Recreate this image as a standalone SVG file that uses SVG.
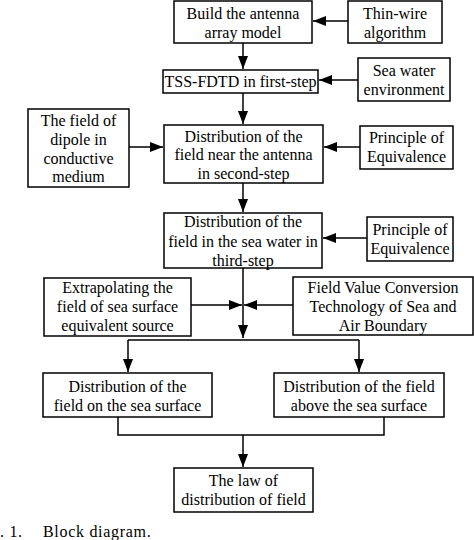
<svg xmlns="http://www.w3.org/2000/svg" width="474" height="540" viewBox="0 0 474 540">
<style>
rect{fill:#fff;stroke:#000;stroke-width:1.5}
text{font-family:"Liberation Serif","DejaVu Serif",serif;font-size:16px;fill:#000;text-anchor:middle}
.c line,.c polyline{stroke:#000;stroke-width:1.5;fill:none}
.cap{text-anchor:start;letter-spacing:0.7px}
</style>
<defs>
<marker id="a" markerUnits="userSpaceOnUse" markerWidth="14" markerHeight="10" refX="13" refY="5" orient="auto">
<path d="M0,0 L13,5 L0,10 z" fill="#000"/>
</marker>
</defs>
<rect width="474" height="540" style="fill:#fff;stroke:none"/>
<g class="c">
<line x1="348" y1="21" x2="313" y2="21" marker-end="url(#a)"/>
<line x1="243" y1="43" x2="243" y2="69" marker-end="url(#a)"/>
<line x1="358" y1="80" x2="319" y2="80" marker-end="url(#a)"/>
<line x1="243" y1="93" x2="243" y2="124" marker-end="url(#a)"/>
<line x1="129" y1="147" x2="163" y2="147" marker-end="url(#a)"/>
<line x1="360" y1="147" x2="324" y2="147" marker-end="url(#a)"/>
<line x1="243" y1="183" x2="243" y2="212" marker-end="url(#a)"/>
<line x1="367" y1="238" x2="323" y2="238" marker-end="url(#a)"/>
<line x1="243" y1="268" x2="243" y2="338" marker-end="url(#a)"/>
<line x1="191" y1="305" x2="242" y2="305" marker-end="url(#a)"/>
<line x1="293" y1="305" x2="244" y2="305" marker-end="url(#a)"/>
<line x1="128" y1="340" x2="359" y2="340"/>
<line x1="128" y1="340" x2="128" y2="372" marker-end="url(#a)"/>
<line x1="359" y1="340" x2="359" y2="372" marker-end="url(#a)"/>
<polyline points="118,417 118,435 384,435 384,417"/>
<line x1="243" y1="435" x2="243" y2="467" marker-end="url(#a)"/>
</g>
<g id="build"><rect x="174" y="1" width="138" height="42"/><text x="243" y="19">Build the antenna</text><text x="243" y="38">array model</text></g>
<g id="thinwire"><rect x="348" y="1" width="94" height="42"/><text x="395" y="19">Thin-wire</text><text x="395" y="38">algorithm</text></g>
<g id="tss"><rect x="163" y="70" width="155" height="23"/><text x="240.5" y="86.5">TSS-FDTD in first-step</text></g>
<g id="seawater"><rect x="358" y="58" width="92" height="43"/><text x="404" y="76">Sea water</text><text x="404" y="94.5">environment</text></g>
<g id="dipole"><rect x="28" y="109" width="101" height="78"/><text x="78.5" y="125.5">The field of</text><text x="78.5" y="145">dipole in</text><text x="78.5" y="164">conductive</text><text x="78.5" y="182">medium</text></g>
<g id="dist2"><rect x="164" y="125" width="159" height="58"/><text x="243.5" y="141.5">Distribution of the</text><text x="243.5" y="160">field near the antenna</text><text x="243.5" y="179">in second-step</text></g>
<g id="principle1"><rect x="360" y="126" width="93" height="43"/><text x="406.5" y="143">Principle of</text><text x="406.5" y="162">Equivalence</text></g>
<g id="dist3"><rect x="164" y="213" width="158" height="55"/><text x="243" y="227">Distribution of the</text><text x="243" y="246.5">field in the sea water in</text><text x="243" y="265.5">third-step</text></g>
<g id="principle2"><rect x="367" y="217" width="86" height="44"/><text x="410" y="235">Principle of</text><text x="410" y="254">Equivalence</text></g>
<g id="extrap"><rect x="44" y="278" width="147" height="58"/><text x="117.5" y="293">Extrapolating the</text><text x="117.5" y="312">field of sea surface</text><text x="117.5" y="331">equivalent source</text></g>
<g id="fieldvalue"><rect x="293" y="277" width="180" height="58"/><text x="383" y="293">Field Value Conversion</text><text x="383" y="311.5">Technology of Sea and</text><text x="383" y="331">Air Boundary</text></g>
<g id="onsurface"><rect x="43" y="373" width="169" height="44"/><text x="127.5" y="391.5">Distribution of the</text><text x="127.5" y="410.5">field on the sea surface</text></g>
<g id="above"><rect x="274" y="373" width="170" height="44"/><text x="359" y="391.5">Distribution of the field</text><text x="359" y="410.5">above the sea surface</text></g>
<g id="law"><rect x="174" y="468" width="139" height="44"/><text x="243.5" y="485.5">The law of</text><text x="243.5" y="504.5">distribution  of field</text></g>
<text class="cap" x="0" y="537">. 1.</text>
<text class="cap" x="43" y="537">Block diagram.</text>
</svg>
